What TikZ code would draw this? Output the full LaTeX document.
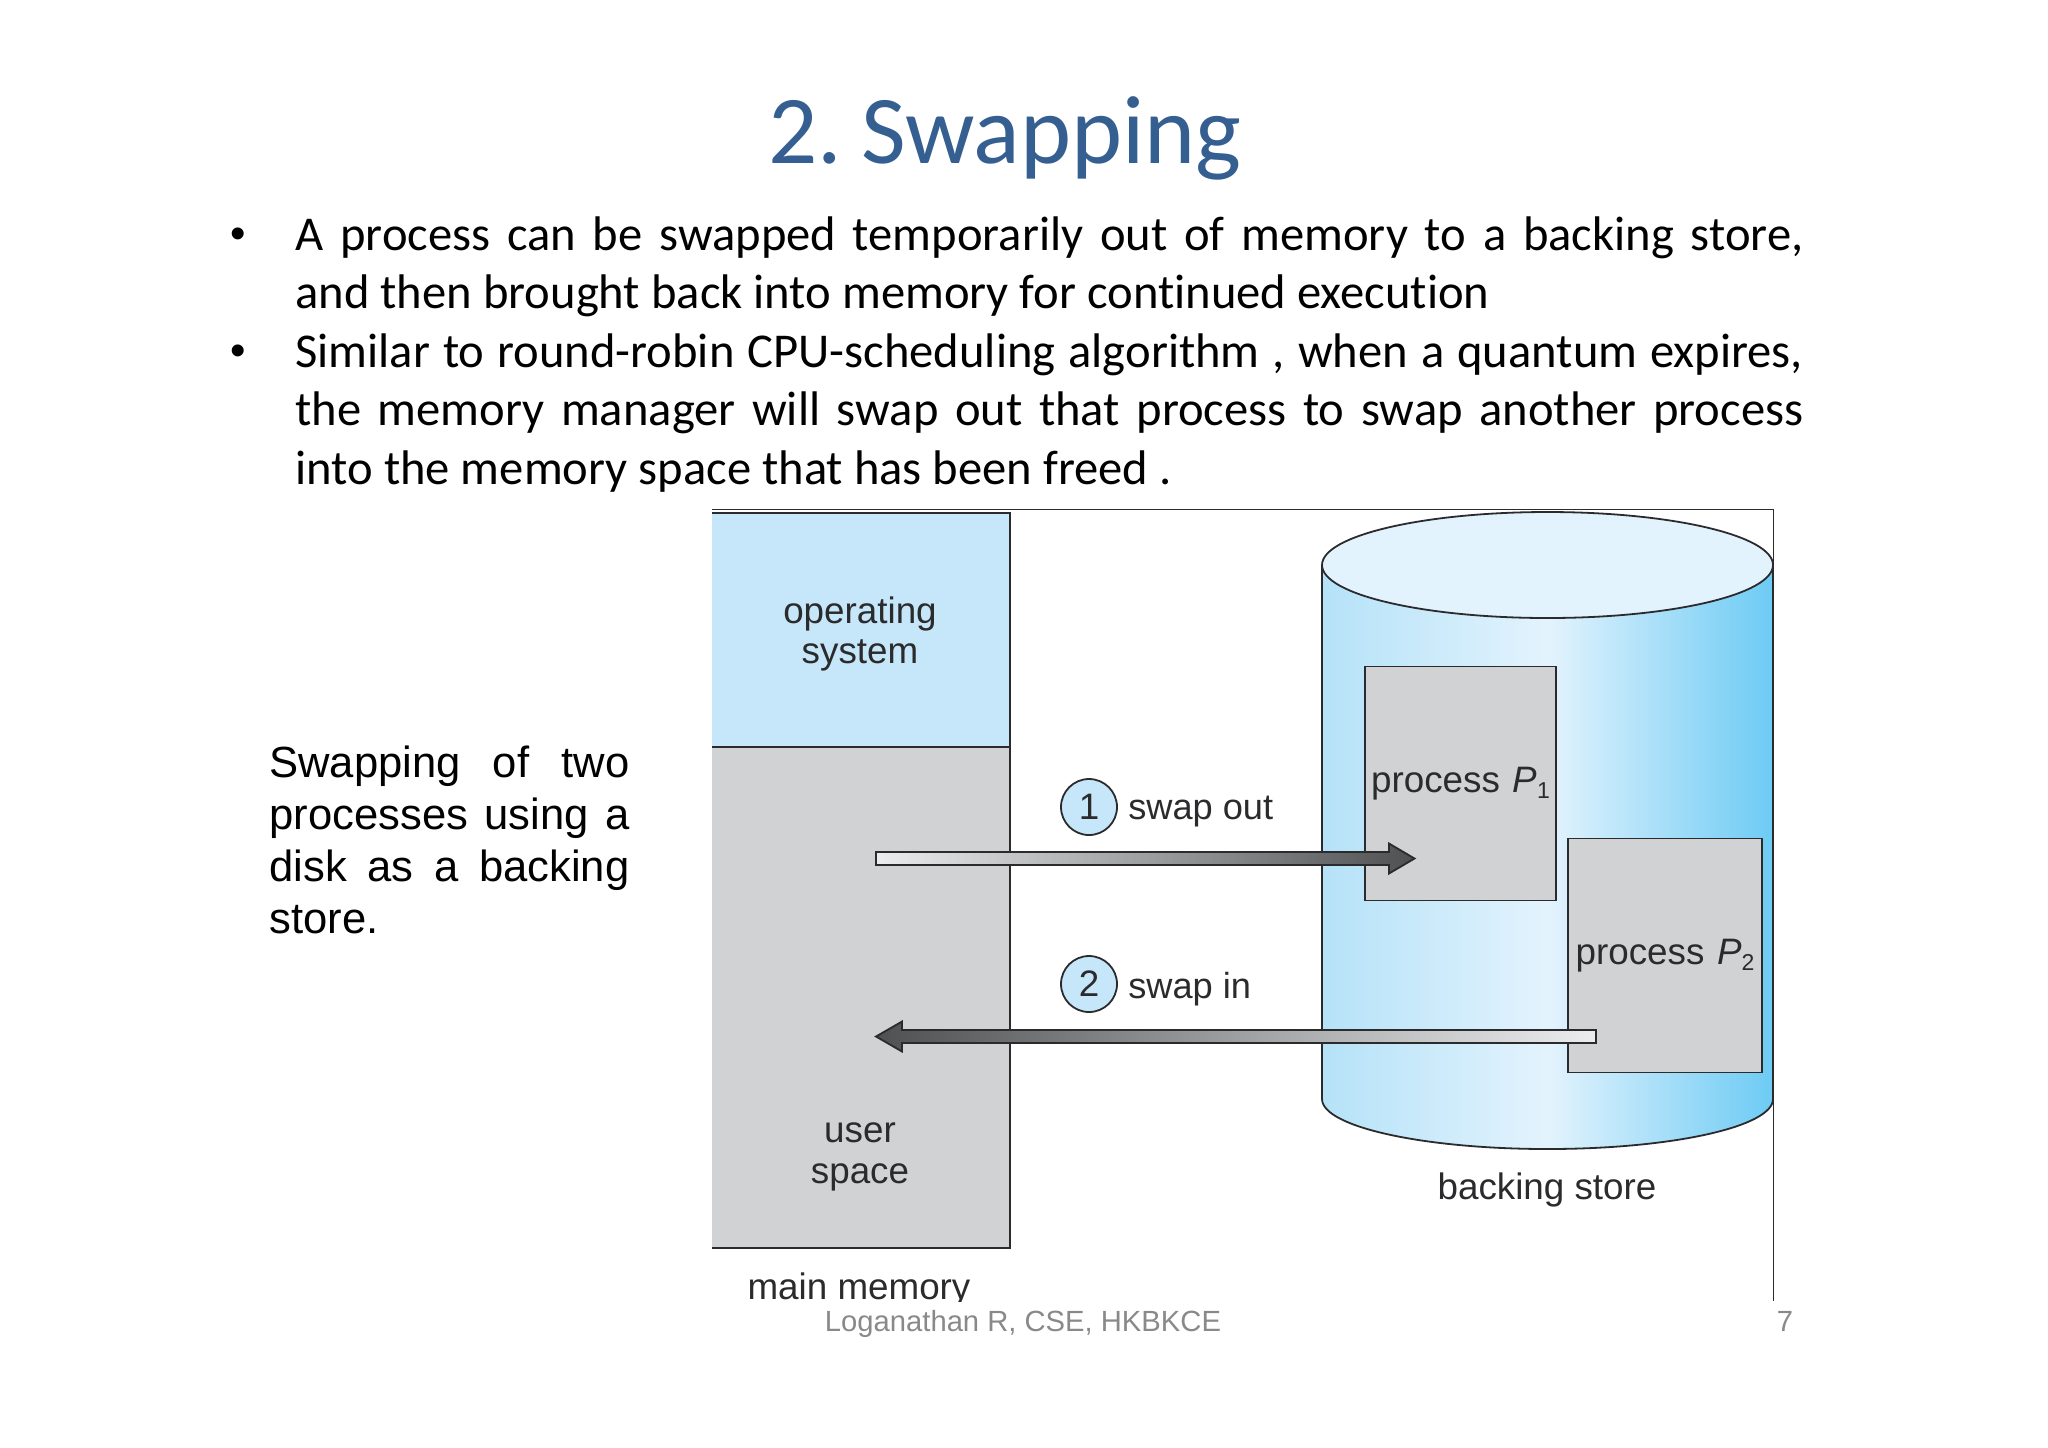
\documentclass[tikz,border=0pt]{standalone}
\usepackage{fontspec}
\setmainfont{Liberation Sans}
\newfontfamily\carlito[Ligatures=CommonOff]{Carlito}
\newfontfamily\titlefont[WordSpace=0.55]{Carlito}
\usepackage{tikz}
\usetikzlibrary{positioning}
\definecolor{titleblue}{HTML}{365F91}
\definecolor{inkc}{HTML}{2B2A2C}
\definecolor{osblue}{HTML}{C5E7F9}
\definecolor{boxgray}{HTML}{D1D2D4}
\definecolor{cylleft}{HTML}{B5E2F8}
\definecolor{cylmid}{HTML}{E3F3FD}
\definecolor{cylright}{HTML}{6DCBF4}
\definecolor{foot}{HTML}{898989}
\definecolor{arrowdark}{HTML}{4F5052}
\definecolor{arrowlight}{HTML}{ECEDEE}
\newcommand{\procname}[1]{process\ \hspace{1.2pt}\textit{P}\raisebox{-3.2pt}{\fontsize{11.5}{12}\selectfont #1}}
\tikzset{
  lab/.style={font=\fontsize{18.4}{20.2}\selectfont,text=inkc,align=center,inner sep=0pt},
  line/.style={draw=inkc,line width=0.9pt},
  procbox/.style={line,fill=boxgray,rectangle,minimum width=95.5pt,minimum height=117pt,inner sep=0pt,font=\fontsize{18.4}{20}\selectfont,text=inkc},
  numcirc/.style={line,circle,fill=osblue,minimum size=28pt,inner sep=0pt,font=\fontsize{18.4}{20}\selectfont,text=inkc},
  bodytext/.style={font=\carlito\fontsize{24.3}{29.25}\selectfont,text width=754pt,align=justify,inner sep=0pt,anchor=north west},
  footer/.style={font=\fontsize{14.6}{16}\selectfont,text=foot,inner sep=0pt,anchor=base}
}
\begin{document}
\begin{tikzpicture}[x=0.5pt,y=-0.5pt]
  \useasboundingbox (0,0) rectangle (2048,1447);
  \node[font=\titlefont\fontsize{48.6}{50}\selectfont,text=titleblue,inner sep=0pt,anchor=base] (title) at (1005,163) {2. Swapping};
  \foreach \y in {238,355} { \node[font=\fontsize{22}{26}\selectfont,inner sep=0pt] (b\y) at (238,\y) {•}; }
  \node[bodytext] (first) at (295,216) {A process can be swapped temporarily out of memory to a backing store,\linebreak and then brought back into memory for continued execution};
  \node[bodytext] (second) at (295,333) {Similar to round-robin CPU-scheduling algorithm , when a quantum expires,\linebreak the memory manager will swap out that process to swap another process\linebreak into the memory space that has been freed .};
  \node[font=\fontsize{21.8}{26}\selectfont,text width=180pt,align=justify,inner sep=0pt,anchor=north west] (caption) at (269,745) {Swapping of two\linebreak processes using a\linebreak disk as a backing\linebreak store.};
  % main memory
  \fill[osblue] (712,513) rectangle (1010,747);
  \fill[boxgray] (712,747) rectangle (1010,1248);
  \draw[line] (712,513)--(1010,513)--(1010,1248)--(712,1248);
  \draw[line] (712,747)--(1010,747);
  \node[lab] (os) at (860,634) {operating\\system};
  \node[lab] (user) at (860,1157) {user\\space};
  \begin{scope}
    \clip (700,509) rectangle (1780,1301);
    \node[lab,anchor=base] (mem) at (859,1299) {main memory};
  \end{scope}
  % backing store
  \path[line,left color=cylleft,right color=cylright,middle color=cylmid] (1322,565)--(1322,1099) arc[start angle=180,end angle=0,x radius=225.5,y radius=50]--(1773,565)--cycle;
  \draw[line,fill=cylmid] (1547.5,565) ellipse [x radius=225.5,y radius=53];
  \node[lab,anchor=base] (store) at (1547,1199) {backing store};
  \node[procbox] (p1) at (1460.5,783.5) {\raisebox{-1.5pt}{\procname{1}}};
  \node[procbox,minimum width=97pt] (p2) at (1665,955.5) {\raisebox{-1.5pt}{\procname{2}}};
  % swaps
  \foreach \n/\y/\t in {1/807/swap out,2/984/swap in} {
    \node[numcirc] (c\n) at (1089,\y) {\n};
    \node[lab,font=\fontsize{18.1}{20}\selectfont,right=5pt of c\n,yshift=-2.5pt] (s\n) {\t};
  }
  \coordinate (outtail) at (876,858.5);
  \coordinate (outtip) at (1414.5,858.5);
  \coordinate (intail) at (1596,1036.5);
  \coordinate (intip) at (876,1036.5);
  \draw[line,left color=arrowlight,right color=arrowdark] (outtail) ++(0,-6.5) -- ++(513,0) -- ++(0,-8.5) -- (outtip) -- ++(-25.5,15) -- ++(0,-8.5) -- ++(-513,0) -- cycle;
  \draw[line,left color=arrowdark,right color=arrowlight] (intail) ++(0,-6.5) -- ++(-694,0) -- ++(0,-8.5) -- (intip) -- ++(26,15) -- ++(0,-8.5) -- ++(694,0) -- cycle;
  % frame
  \coordinate (fa) at (712,509.5);
  \coordinate (fb) at (1773.7,509.5);
  \coordinate (fc) at (1773.7,1301);
  \draw[draw=inkc,line width=0.7pt] (fa)--(fb)--(fc);
  \node[footer] (name) at (1023,1331) {Loganathan R, CSE, HKBKCE};
  \node[footer] (page) at (1785,1331) {7};
\end{tikzpicture}
\end{document}
